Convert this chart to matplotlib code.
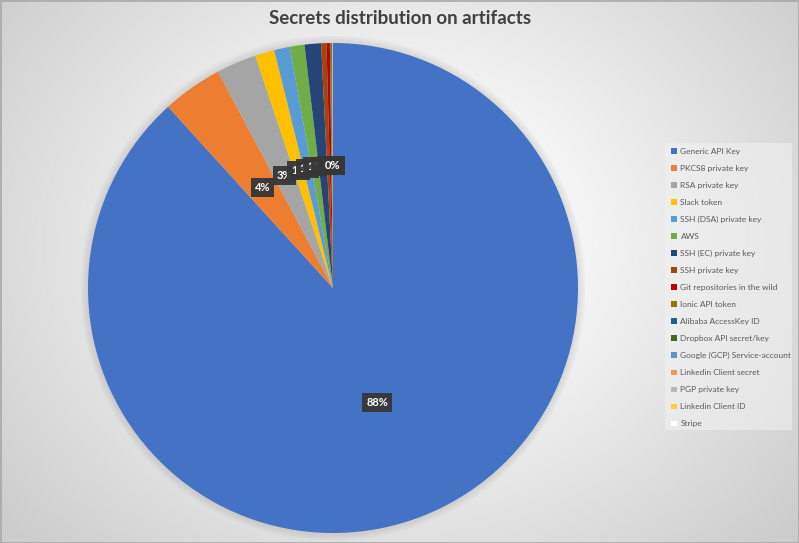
import numpy as np
import matplotlib
matplotlib.use("Agg")
import matplotlib.pyplot as plt
from matplotlib.patches import Patch, Circle

categories = ["Generic API Key", "PKCS8 private key", "RSA private key", "Slack token",
              "SSH (DSA) private key", "AWS", "SSH (EC) private key", "SSH private key",
              "Git repositories in the wild", "Ionic API token", "Alibaba AccessKey ID",
              "Dropbox API secret/key", "Google (GCP) Service-account", "Linkedin Client secret",
              "PGP private key", "Linkedin Client ID", "Stripe"]
values = [88.2, 3.97, 2.64, 1.28, 1.03, 0.97, 1.08, 0.35, 0.22, 0.07, 0.04, 0.03,
          0.02, 0.02, 0.01, 0.01, 0.005]
colors = ["#4472C4", "#ED7D31", "#A5A5A5", "#FFC000", "#5B9BD5", "#70AD47", "#264478",
          "#9E480E", "#C00000", "#997300", "#255E91", "#43682B", "#698ED0", "#F1975A",
          "#B7B7B7", "#FFCD33", "#FFFFFF"]
title = "Secrets distribution on artifacts"

W, H = 799, 543
fig = plt.figure(figsize=(W / 100, H / 100), dpi=100)

# background radial gradient
bg = fig.add_axes([0, 0, 1, 1])
yy, xx = np.mgrid[0:H, 0:W]
d = np.sqrt(((xx - W * 0.5) / (W * 0.5)) ** 2 + ((yy - H * 0.45) / (H * 0.62)) ** 2)
t = np.clip((d - 0.35) / 0.95, 0, 1)
c0 = np.array([250, 250, 250]) / 255
c1 = np.array([204, 204, 204]) / 255
img = c0[None, None, :] * (1 - t[..., None]) + c1[None, None, :] * t[..., None]
bg.imshow(img, extent=[0, W, H, 0], aspect="auto")
bg.set_xlim(0, W)
bg.set_ylim(H, 0)
bg.axis("off")
bg.add_patch(plt.Rectangle((0.5, 0.5), W - 1, H - 1, fill=False, edgecolor="#a8a8a8", lw=1.2))
# legend panel
bg.add_patch(plt.Rectangle((665, 143), 127, 287, facecolor="#f2f2f2", alpha=0.55,
                           edgecolor="none", zorder=2))

fig.text(400 / W, 1 - 18 / H, title, ha="center", va="center", fontsize=13.5,
         fontweight="bold", color="#404040", family=["Lato", "DejaVu Sans"])

cx, cy, R = 333, 288, 245
S = 1.03
ax = fig.add_axes([(cx - R * S) / W, (H - cy - R * S) / H, 2 * R * S / W, 2 * R * S / H])

# soft shadow
for i in range(8):
    ax.add_patch(Circle((0, 0), 1.0 + 0.004 * (i + 1), color="#909090", alpha=0.03, lw=0, zorder=0))

wedges, texts, autotexts = ax.pie(values, colors=colors, startangle=90, counterclock=False,
                                  autopct="%.0f%%", pctdistance=0.5,
                                  wedgeprops=dict(linewidth=0),
                                  textprops=dict(color="white", fontsize=8, fontweight="bold",
                                                 family=["Lato", "DejaVu Sans"]))
for i, at in enumerate(autotexts):
    at.set_bbox(dict(boxstyle="square,pad=0.35", facecolor="#363636", edgecolor="none", alpha=0.95))
    at.set_zorder(10 + i)
ax.set_xlim(-S, S)
ax.set_ylim(-S, S)
ax.axis("off")

handles = [Patch(facecolor=c, edgecolor="none") for c in colors]
leg = fig.legend(handles, categories, loc="upper left", bbox_to_anchor=(663 / W, 1 - 140 / H),
                 frameon=False, handlelength=0.7, handleheight=0.7,
                 handletextpad=0.45, labelspacing=1.2, borderpad=0.45,
                 prop=dict(family=["Lato", "DejaVu Sans"], size=6.0))
for txt in leg.get_texts():
    txt.set_color("#595959")

fig.savefig("out.png", dpi=100)
